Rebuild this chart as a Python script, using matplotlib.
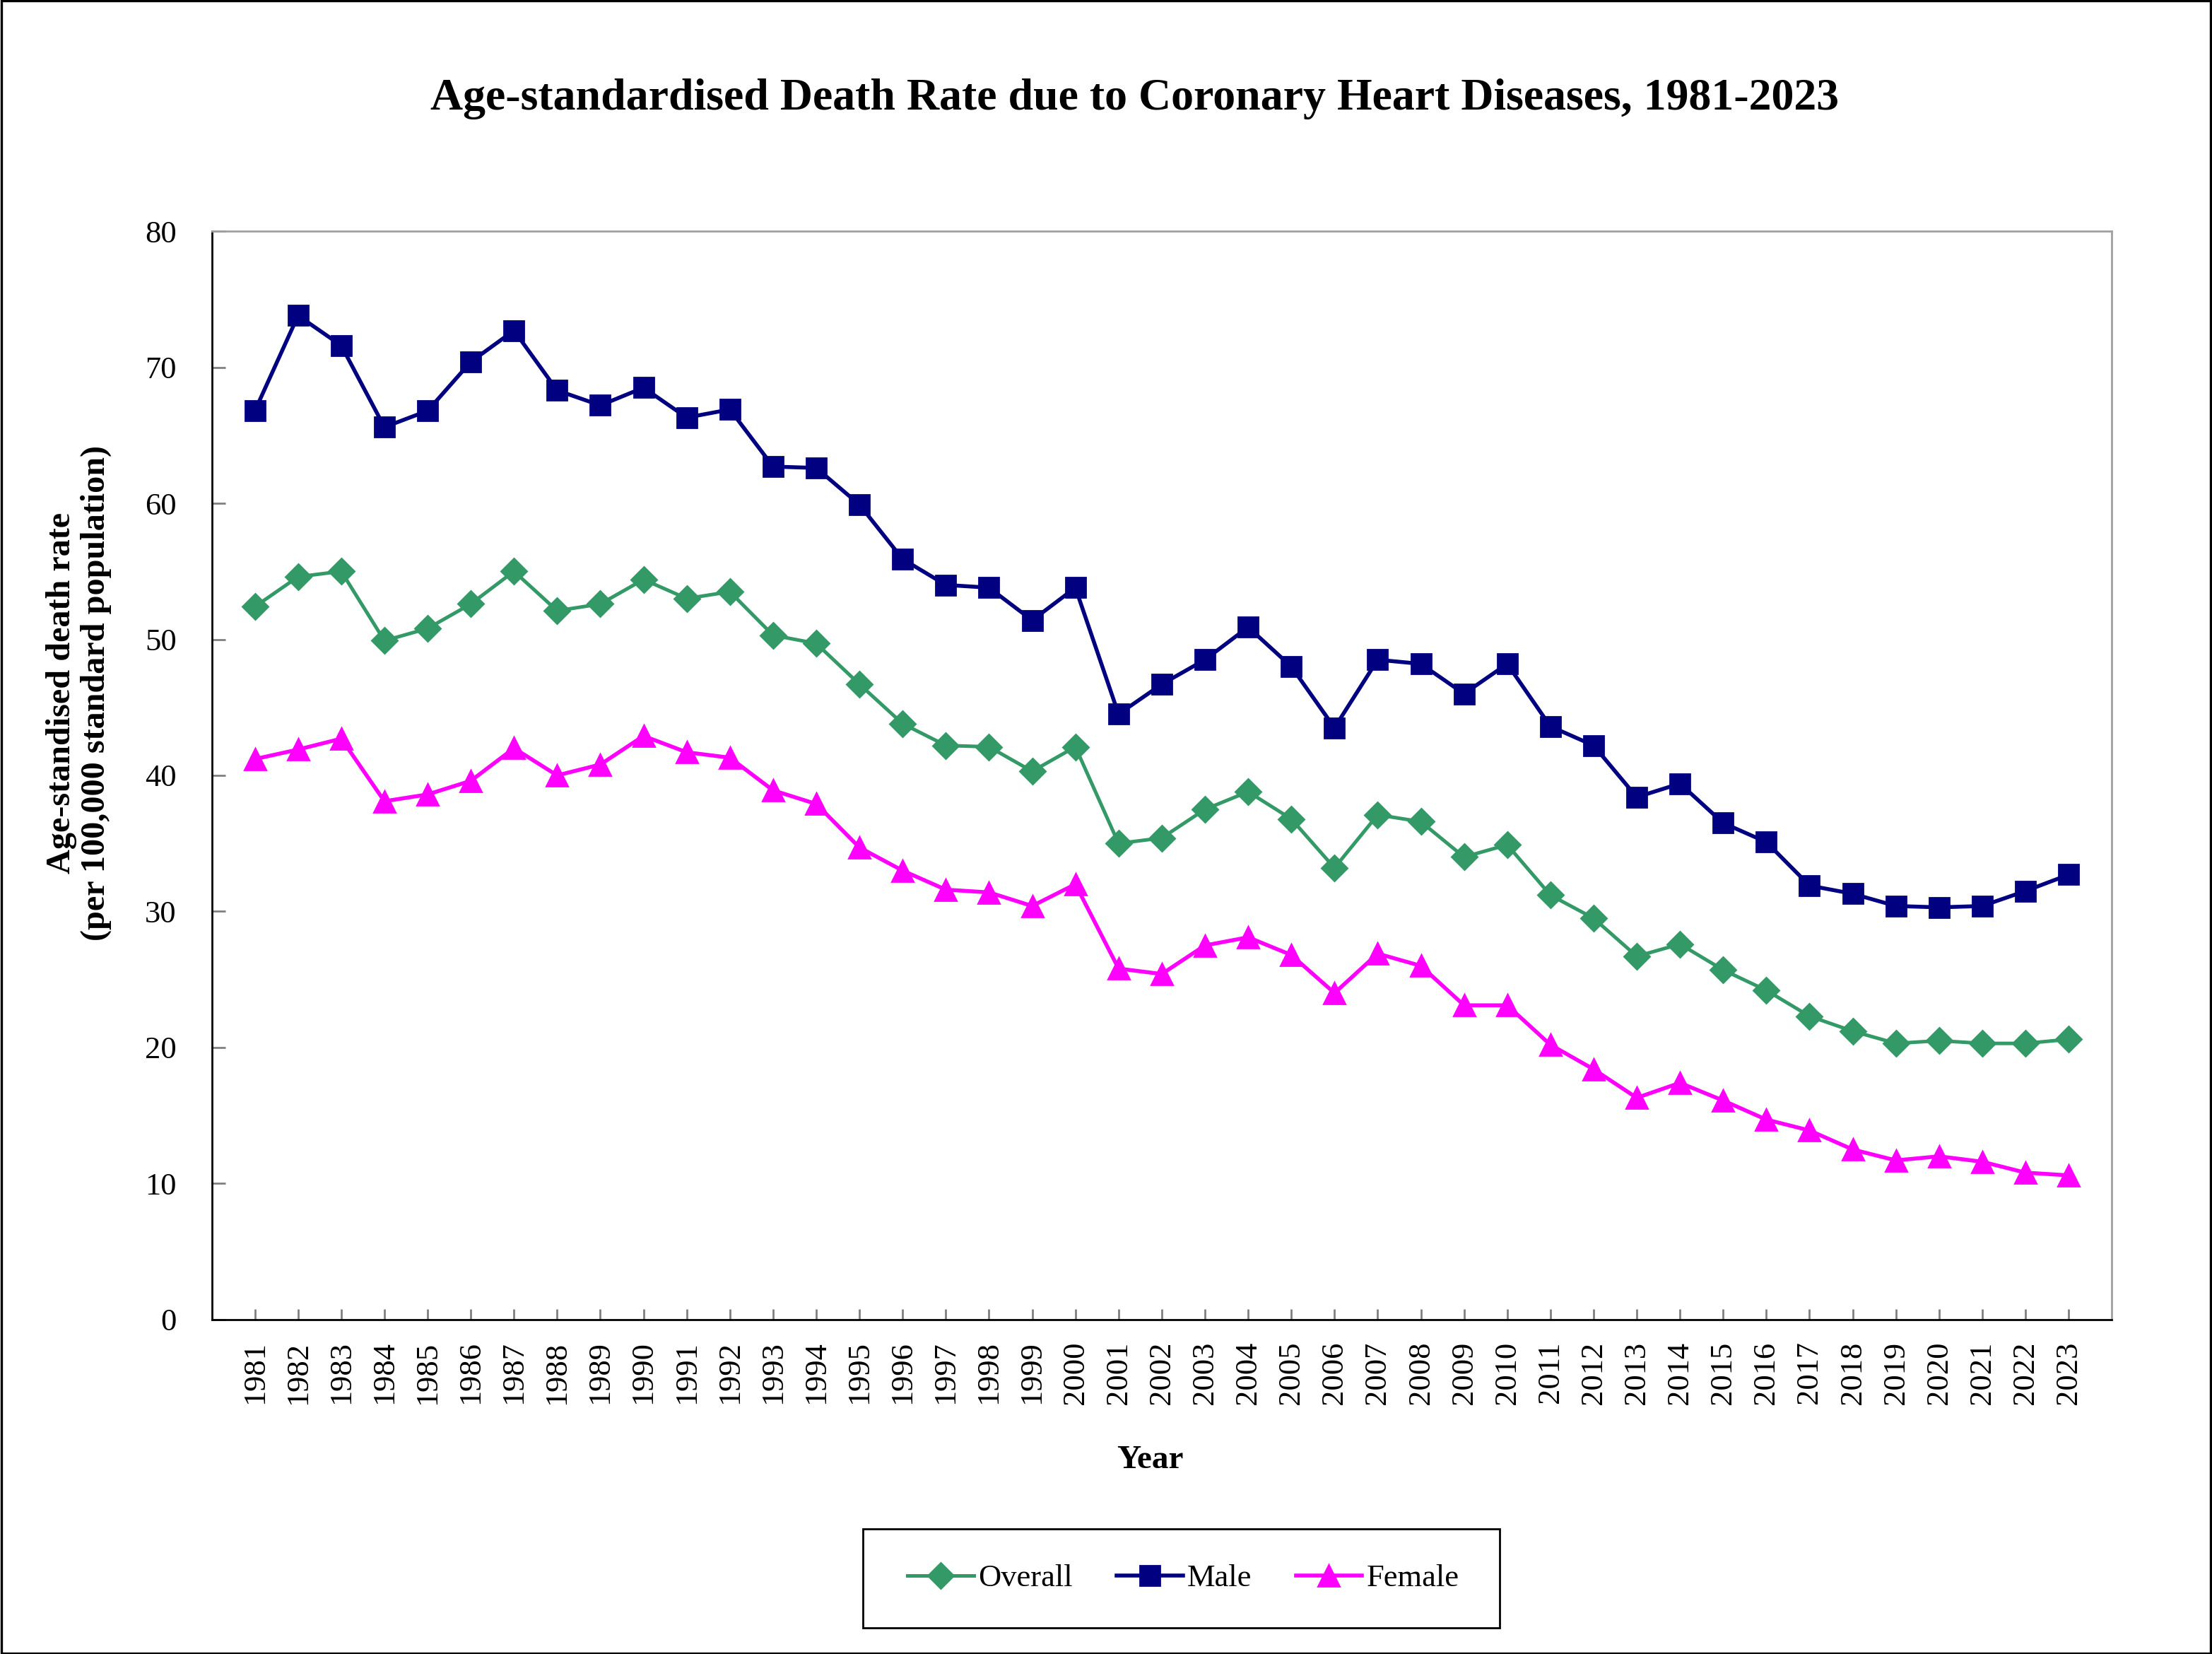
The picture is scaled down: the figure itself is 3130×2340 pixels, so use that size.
import matplotlib
matplotlib.use('Agg')
import matplotlib.pyplot as plt
from matplotlib.patches import Rectangle
import numpy as np

plt.rcParams['font.family'] = ['Liberation Serif', 'DejaVu Serif']

years = list(range(1981, 2024))

overall = [52.4, 54.6, 55.0, 49.9, 50.8, 52.6, 55.0, 52.1, 52.6, 54.4,
           53.0, 53.5, 50.3, 49.7, 46.7, 43.8, 42.2, 42.1, 40.3, 42.1,
           35.0, 35.4, 37.5, 38.8, 36.8, 33.2, 37.1, 36.6, 34.0, 34.9,
           31.2, 29.5, 26.7, 27.6, 25.7, 24.2, 22.3, 21.2, 20.3, 20.5,
           20.3, 20.3, 20.6]

male = [66.8, 73.8, 71.6, 65.6, 66.8, 70.4, 72.7, 68.3, 67.2, 68.5,
        66.3, 66.9, 62.7, 62.6, 59.9, 55.9, 54.0, 53.8, 51.4, 53.8,
        44.5, 46.7, 48.5, 50.9, 48.0, 43.5, 48.5, 48.2, 46.0, 48.2,
        43.6, 42.2, 38.4, 39.4, 36.5, 35.1, 31.9, 31.3, 30.4, 30.3,
        30.4, 31.5, 32.7]

female = [41.2, 41.9, 42.7, 38.1, 38.6, 39.6, 42.0, 40.0, 40.8, 42.9,
          41.7, 41.3, 38.9, 37.9, 34.7, 33.0, 31.6, 31.4, 30.4, 32.0,
          25.8, 25.4, 27.5, 28.1, 26.8, 24.0, 26.9, 26.0, 23.1, 23.1,
          20.2, 18.4, 16.3, 17.4, 16.1, 14.7, 13.9, 12.5, 11.7, 12.0,
          11.6, 10.8, 10.6]

fig = plt.figure(figsize=(15.65, 11.7), dpi=200)
ax = fig.add_axes([0.0957, 0.2022, 0.859, 0.658])

l1, = ax.plot(years, overall, color='#339966', marker='D', markersize=9,
              linewidth=1.8, label='Overall')
l2, = ax.plot(years, male, color='#000080', marker='s', markersize=10,
              linewidth=2.0, label='Male')
l3, = ax.plot(years, female, color='#FF00FF', marker='^', markersize=11,
              linewidth=2.0, label='Female')

ax.set_xlim(1980, 2024)
ax.set_ylim(0, 80)
ax.set_yticks(np.arange(0, 81, 10))
ax.set_xticks(years)
ax.set_xticklabels([str(y) for y in years], rotation=90)

ax.tick_params(axis='y', direction='in', length=7, width=1, color='#808080',
               labelsize=16, pad=18)
ax.tick_params(axis='x', direction='in', length=5.5, width=1, color='#808080',
               labelsize=16, pad=11)

ax.spines['left'].set_color('black')
ax.spines['bottom'].set_color('black')
ax.spines['top'].set_color('#A0A0A0')
ax.spines['right'].set_color('#A0A0A0')
for s in ax.spines.values():
    s.set_linewidth(1)

fig.text(0.513, 0.94, 'Age-standardised Death Rate due to Coronary Heart Diseases, 1981-2023',
         ha='center', va='center', fontsize=23, fontweight='bold')
fig.text(0.0356, 0.581, 'Age-standised death rate\n(per 100,000 standard population)',
         ha='center', va='center', rotation=90, fontsize=17.4,
         fontweight='bold', linespacing=1.15)
fig.text(0.52, 0.117, 'Year', ha='center', va='center', fontsize=17, fontweight='bold')

# legend box
fig.patches.append(Rectangle((0.390, 0.0158), 0.288, 0.0598, transform=fig.transFigure,
                             fill=False, edgecolor='black', linewidth=1))
fig.legend(handles=[l1, l2, l3], loc='center', bbox_to_anchor=(0.535, 0.0457),
           ncol=3, frameon=False, fontsize=16, handlelength=2.1,
           handletextpad=0.15, columnspacing=1.4)

# outer border
fig.patches.append(Rectangle((0.0005, 0.0005), 0.999, 0.999, transform=fig.transFigure,
                             fill=False, edgecolor='black', linewidth=1.2))

fig.savefig('out.png', dpi=200)
